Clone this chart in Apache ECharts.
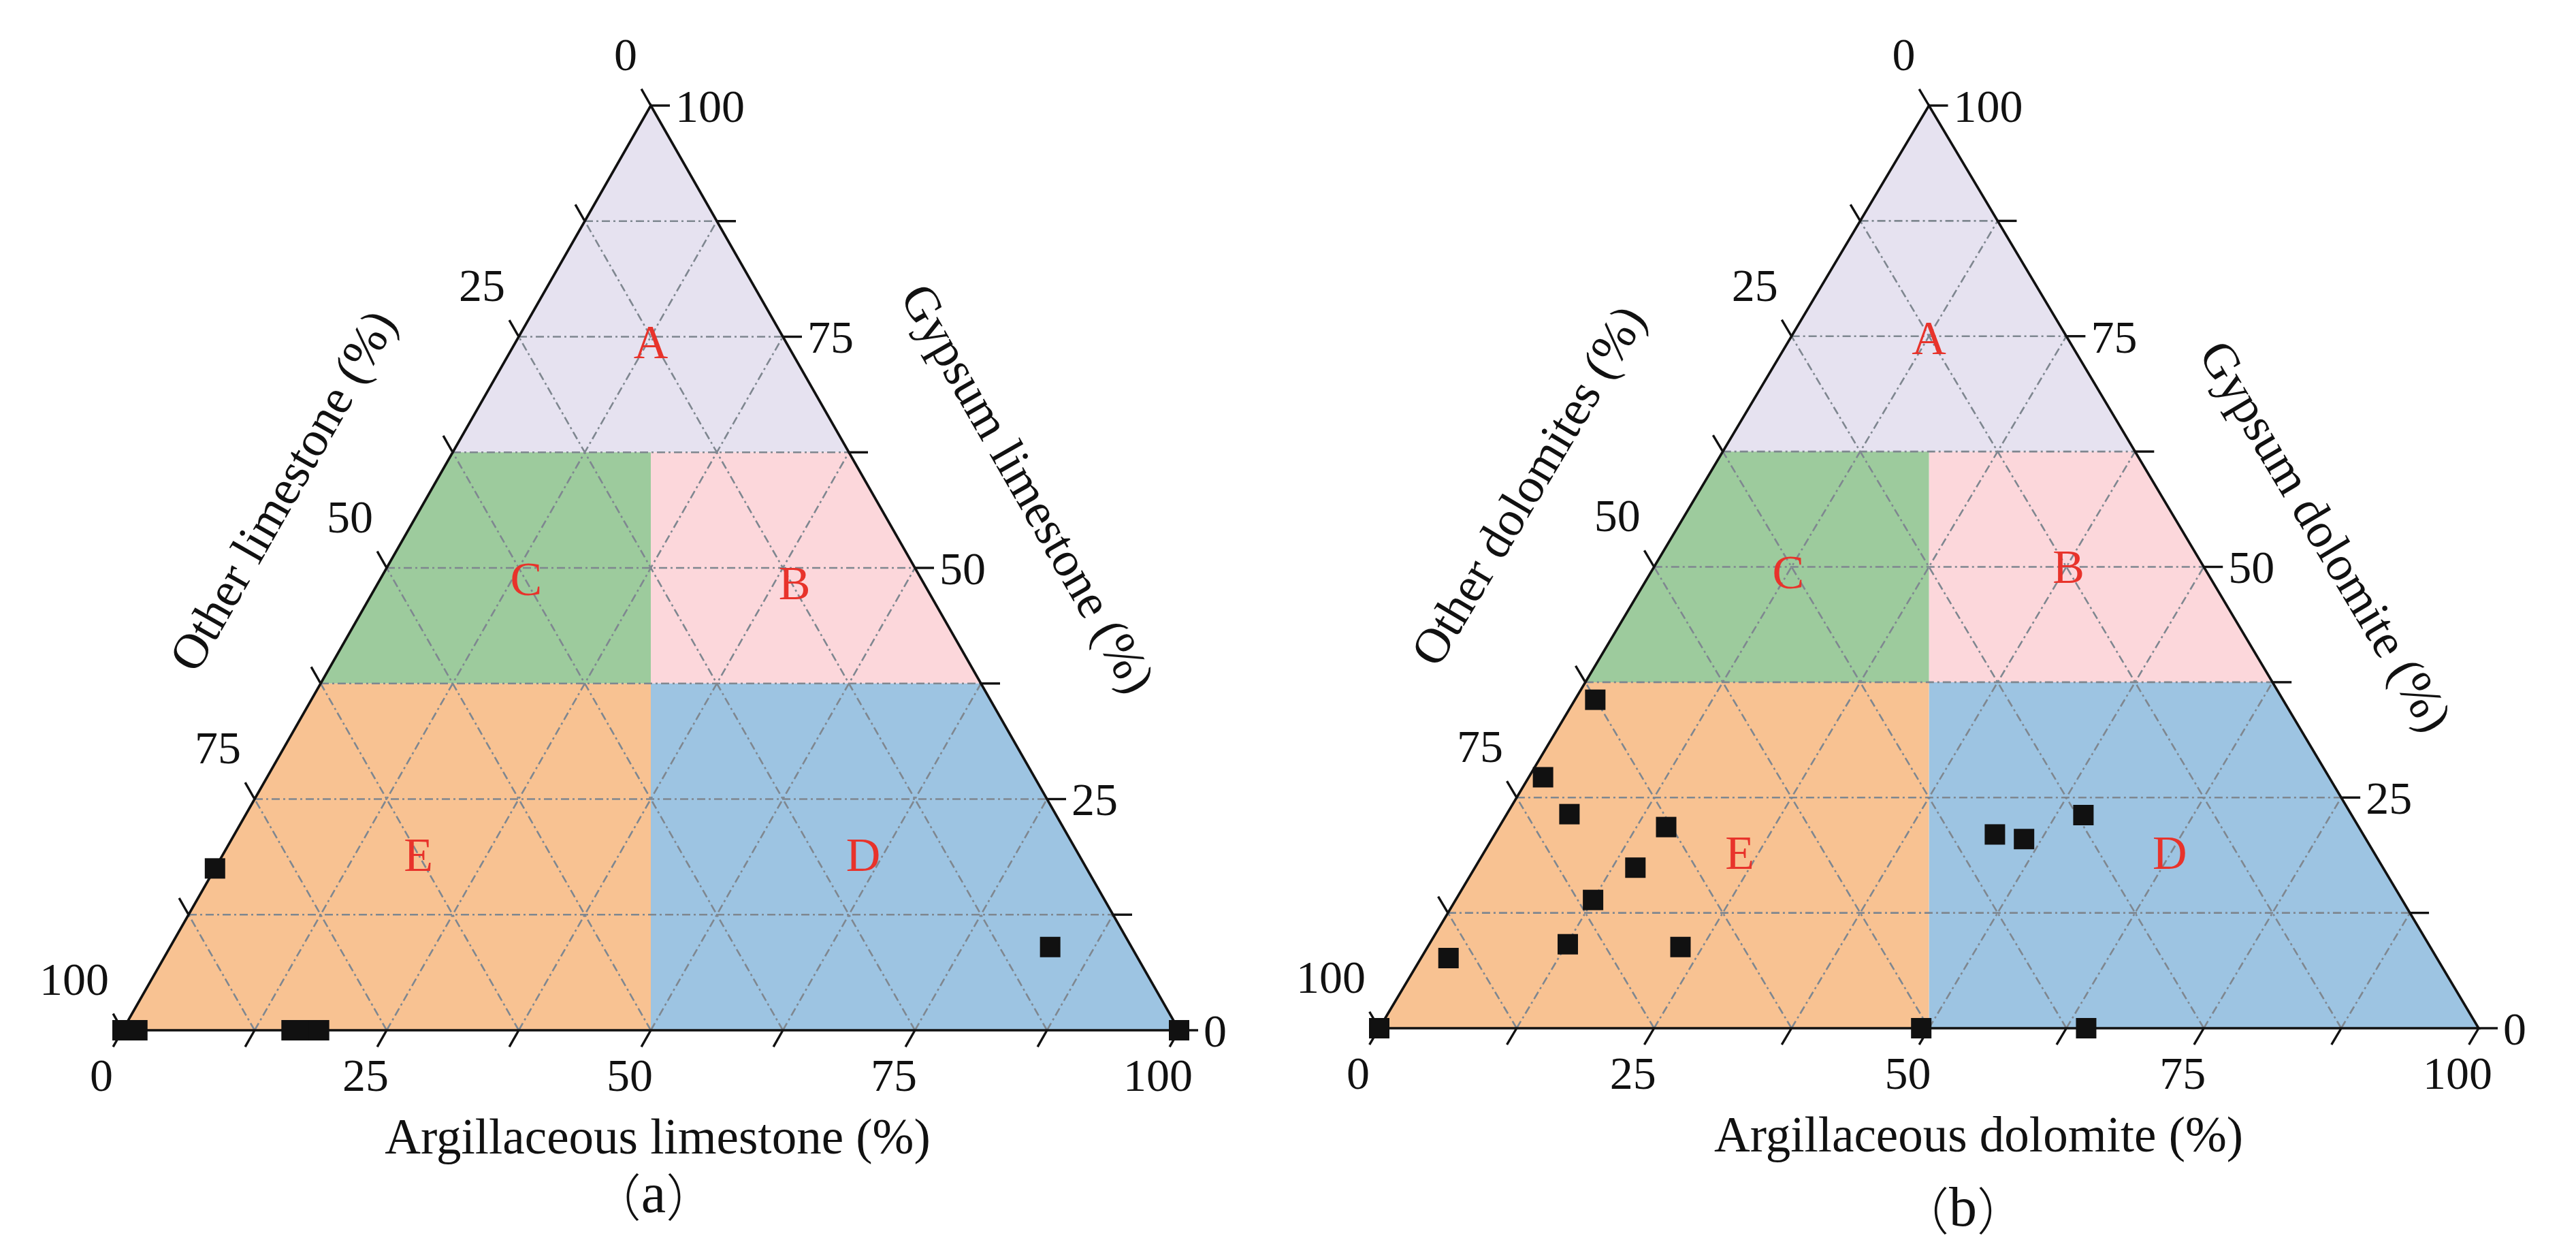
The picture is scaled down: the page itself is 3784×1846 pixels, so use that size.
<!DOCTYPE html>
<html><head><meta charset="utf-8">
<script src="https://cdn.jsdelivr.net/npm/echarts@6/dist/echarts.min.js"></script>
<style>html,body{margin:0;padding:0;background:#fff}#c{width:3784px;height:1846px}</style>
</head><body><div id="c"></div>
<script>
// ---------------- data ----------------
const tickValues = [0, 12.5, 25, 37.5, 50, 62.5, 75, 87.5, 100];
const tickLabelValues = [0, 25, 50, 75, 100];
const gypsumBounds = [37.5, 62.5];        // class boundaries on the gypsum axis
const regionNames = ['A', 'B', 'C', 'D', 'E'];
// panel (a): limestone samples (argillaceous %, gypsum %; other = remainder)
const limeArg = [0, 1.4, 16, 17.3, 18.6, 0, 83.3, 100];
const limeGyp = [0, 0, 0, 0, 0, 17.5, 9, 0];
// panel (b): dolomite samples
const doloArg = [1.85, 1.3, 5.7, 15.2, 14.6, 12.5, 12.6, 23.0, 2.5, 0, 49.3, 64.3, 45.5, 48.4, 52.5];
const doloGyp = [35.6, 27.2, 23.2, 21.8, 17.4, 13.9, 9.1, 8.8, 7.6, 0, 0, 0, 21.0, 20.5, 23.1];
const panelTitles = ['（a）', '（b）'];
const bottomTitles = ['Argillaceous limestone (%)', 'Argillaceous dolomite (%)'];
const leftTitles = ['Other limestone (%)', 'Other dolomites (%)'];
const rightTitles = ['Gypsum limestone (%)', 'Gypsum dolomite (%)'];

// ---------------- layout / style ----------------
const FONT = '"Liberation Serif", "Times New Roman", "Noto Sans CJK SC", serif';
const CJK = '"Noto Sans CJK SC", "Liberation Serif", serif';
const regionColors = { A: '#E6E2F0', B: '#FCD7DB', C: '#9DCB9D', D: '#9DC4E2', E: '#F8C292' };
const regionLabelPos = [
  { A: [50, 74], B: [63.6, 48], C: [38.2, 48.4], D: [70.1, 18.6], E: [28, 18.6] },
  { A: [50, 74.4], B: [62.7, 49.6], C: [37.2, 49], D: [71.9, 18.6], E: [32.8, 18.6] }
];
const titleLayout = [
  { bottomDx: 10, panelDx: 4, panelDy: 245, left: [184, 23], right: [197, 19] },
  { bottomDx: 73, panelDx: 50, panelDy: 268, left: [215, 8], right: [172, -53] }
];
const grids = [
  { left: 180, top: 155, width: 1552, height: 1358 },
  { left: 2026, top: 155, width: 1615, height: 1355 }
];
const TICK_LEN = 28;

function xy(arg, gyp) { return [arg + gyp / 2, gyp]; }

function regionPolygon(name) {
  const g1 = gypsumBounds[0], g2 = gypsumBounds[1];
  switch (name) {
    case 'A': return [[g2 / 2, g2], [100 - g2 / 2, g2], [50, 100]];
    case 'B': return [[50, g1], [100 - g1 / 2, g1], [100 - g2 / 2, g2], [50, g2]];
    case 'C': return [[g1 / 2, g1], [50, g1], [50, g2], [g2 / 2, g2]];
    case 'D': return [[50, 0], [100, 0], [100 - g1 / 2, g1], [50, g1]];
    case 'E': return [[0, 0], [50, 0], [50, g1], [g1 / 2, g1]];
  }
}

function norm(v) { const l = Math.hypot(v[0], v[1]); return [v[0] / l, v[1] / l]; }

function makeRender(p) {
  return function (params, api) {
    const C = (pt) => api.coord(pt);
    const ch = [];
    const BL = C([0, 0]), BR = C([100, 0]), AP = C([50, 100]);
    // regions
    regionNames.forEach(n => {
      ch.push({ type: 'polygon', shape: { points: regionPolygon(n).map(C) },
        style: { fill: regionColors[n] } });
    });
    // grid lines
    const gridStyle = { stroke: '#7f8790', lineWidth: 2.6, lineDash: [12, 5, 3, 5], fill: null };
    tickValues.filter(k => k > 0 && k < 100).forEach(k => {
      const segs = [
        [[k / 2, k], [100 - k / 2, k]],
        [[k, 0], [k + (100 - k) / 2, 100 - k]],
        [[100 - k, 0], [(100 - k) / 2, 100 - k]]
      ];
      segs.forEach(s => ch.push({ type: 'line',
        shape: { x1: C(s[0])[0], y1: C(s[0])[1], x2: C(s[1])[0], y2: C(s[1])[1] }, style: gridStyle }));
    });
    // edges
    ch.push({ type: 'polygon', shape: { points: [BL, BR, AP] },
      style: { fill: null, stroke: '#111', lineWidth: 3.6, lineJoin: 'miter' } });
    // ticks
    const dBottom = norm([BL[0] - AP[0], BL[1] - AP[1]]);
    const dLeft = norm([AP[0] - BR[0], AP[1] - BR[1]]);
    const dRight = [1, 0];
    const tickStyle = { stroke: '#111', lineWidth: 3.4 };
    tickValues.forEach(t => {
      const pts = [
        [C([t, 0]), dBottom],
        [C([100 - t / 2, t]), dRight],
        [C([(100 - t) / 2, 100 - t]), dLeft]
      ];
      pts.forEach(([q, d]) => ch.push({ type: 'line',
        shape: { x1: q[0], y1: q[1], x2: q[0] + d[0] * TICK_LEN, y2: q[1] + d[1] * TICK_LEN }, style: tickStyle }));
    });
    // text helper
    const lab = (x, y, text, align, size, extra) => Object.assign({ type: 'text', x: x, y: y,
      style: { text: text, fill: '#111', fontSize: size, fontFamily: FONT, align: align, verticalAlign: 'middle' } }, extra || {});
    tickLabelValues.forEach(v => {
      const b = C([v, 0]);
      ch.push(lab(b[0] - 31, b[1] + 71, String(v), 'center', 68));
      const r = C([100 - v / 2, v]);
      ch.push(lab(r[0] + 36, r[1] + 6, String(v), 'left', 68));
      const l = C([(100 - v) / 2, 100 - v]);
      ch.push(lab(l[0] - 20, l[1] - 70, String(v), 'right', 68));
    });
    // region letters
    regionNames.forEach(n => {
      const q = C(regionLabelPos[p][n]);
      ch.push({ type: 'text', x: q[0], y: q[1], style: { text: n, fill: '#E8332B', fontSize: 70,
        fontFamily: FONT, align: 'center', verticalAlign: 'middle' } });
    });
    // axis titles
    const L = titleLayout[p];
    const midX = (BL[0] + BR[0]) / 2;
    ch.push(lab(midX + L.bottomDx, BL[1] + 162, bottomTitles[p], 'center', 73));
    // panel label: full-width brackets + serif letter
    const pt = panelTitles[p];
    ch.push({ type: 'text', x: midX + L.panelDx, y: BL[1] + L.panelDy,
      style: { text: '{p|' + pt.charAt(0) + '}{l|' + pt.slice(1, -1) + '}{p|' + pt.charAt(pt.length - 1) + '}',
        align: 'center', verticalAlign: 'middle', fill: '#111',
        rich: { p: { fontFamily: CJK, fontSize: 74, fill: '#111', fontWeight: 300 },
                l: { fontFamily: FONT, fontSize: 82, fill: '#111' } } } });
    // left title (parallel to left edge, outside)
    const eL = norm([AP[0] - BL[0], AP[1] - BL[1]]);       // toward apex
    const nL = [eL[1], -eL[0]];                             // outward normal
    const mL = [(AP[0] + BL[0]) / 2, (AP[1] + BL[1]) / 2];
    ch.push(lab(mL[0] + nL[0] * L.left[0] + eL[0] * L.left[1],
                mL[1] + nL[1] * L.left[0] + eL[1] * L.left[1], leftTitles[p], 'center', 73,
      { rotation: Math.atan2(-eL[1], eL[0]) }));
    // right title
    const eR = norm([BR[0] - AP[0], BR[1] - AP[1]]);       // toward bottom-right
    const nR = [eR[1], -eR[0]];                             // outward normal
    const mR = [(AP[0] + BR[0]) / 2, (AP[1] + BR[1]) / 2];
    ch.push(lab(mR[0] + nR[0] * L.right[0] - eR[0] * L.right[1],
                mR[1] + nR[1] * L.right[0] - eR[1] * L.right[1], rightTitles[p], 'center', 73,
      { rotation: Math.atan2(-eR[1], eR[0]) }));
    return { type: 'group', children: ch };
  };
}

const chart = echarts.init(document.getElementById('c'));
const axisBase = { type: 'value', min: 0, max: 100, show: false };
const option = {
  animation: false,
  backgroundColor: '#fff',
  grid: grids,
  xAxis: [Object.assign({ gridIndex: 0 }, axisBase), Object.assign({ gridIndex: 1 }, axisBase)],
  yAxis: [Object.assign({ gridIndex: 0 }, axisBase), Object.assign({ gridIndex: 1 }, axisBase)],
  series: [0, 1].map(p => ({
    type: 'custom', xAxisIndex: p, yAxisIndex: p, silent: true, z: 1,
    renderItem: makeRender(p), data: [[50, 50]]
  })).concat([
    { type: 'scatter', xAxisIndex: 0, yAxisIndex: 0, symbol: 'rect', symbolSize: 30, z: 5, clip: false, silent: true,
      itemStyle: { color: '#111', opacity: 1 }, data: limeArg.map((a, i) => xy(a, limeGyp[i])) },
    { type: 'scatter', xAxisIndex: 1, yAxisIndex: 1, symbol: 'rect', symbolSize: 30, z: 5, clip: false, silent: true,
      itemStyle: { color: '#111', opacity: 1 }, data: doloArg.map((a, i) => xy(a, doloGyp[i])) }
  ])
};
chart.setOption(option);
</script></body></html>
